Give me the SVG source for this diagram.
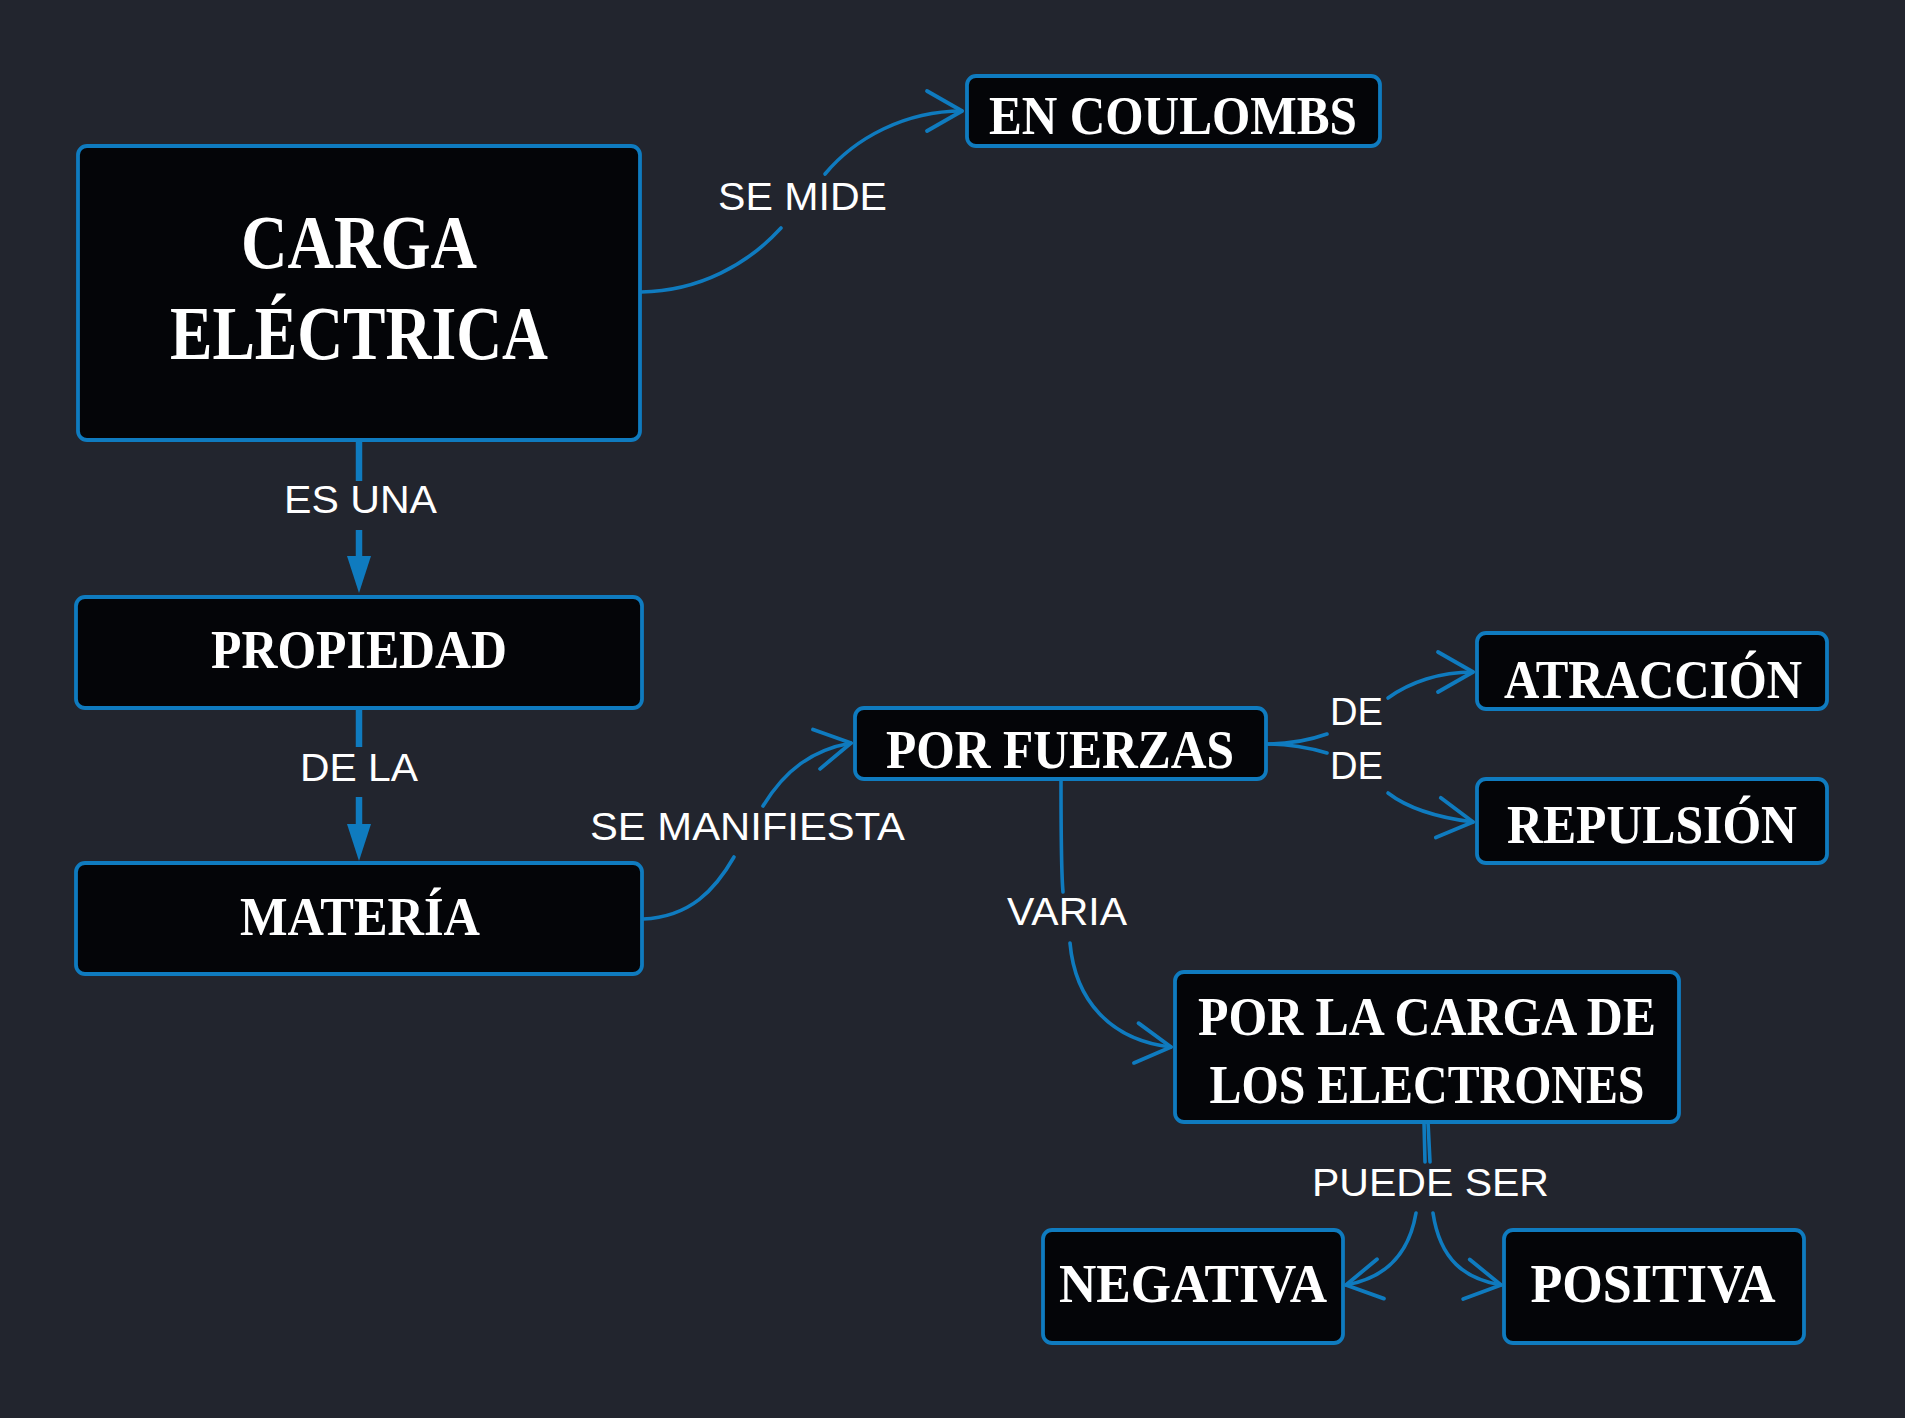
<svg xmlns="http://www.w3.org/2000/svg" width="1905" height="1418" viewBox="0 0 1905 1418">
<style>
.bg{fill:#22252e}
.box{fill:#040508;stroke:#0f7bbf;stroke-width:3.8}
.nt{font-family:"Liberation Serif","Times New Roman",serif;font-weight:bold;fill:#ffffff;text-anchor:middle}
.lb{font-family:"Liberation Sans",Arial,sans-serif;font-size:39px;fill:#ffffff;text-anchor:middle}
.c{fill:none;stroke:#0f7bbf;stroke-width:3.6;stroke-linecap:round}
.ct{fill:none;stroke:#0f7bbf;stroke-width:6.5}
</style>
<defs>
<marker id="chev" markerUnits="userSpaceOnUse" markerWidth="50" markerHeight="50" refX="0" refY="0" orient="auto" overflow="visible">
<path d="M-35,-20 L0,0 L-35,20" fill="none" stroke="#0f7bbf" stroke-width="3.8" stroke-linecap="round" stroke-linejoin="round"/>
</marker>
<marker id="tri" markerUnits="userSpaceOnUse" markerWidth="50" markerHeight="50" refX="0" refY="0" orient="auto" overflow="visible">
<path d="M-4,-12 L33,0 L-4,12 Z" fill="#0f7bbf"/>
</marker>
</defs>
<rect class="bg" x="0" y="0" width="1905" height="1418"/>

<g id="connectors">
<path class="c" d="M641,292 C700,291 748,264 781,228"/>
<path class="c" d="M825,174 C855,138 905,111 962,111" marker-end="url(#chev)"/>
<path class="ct" d="M359,440 L359,481"/>
<path class="ct" d="M359,530 L359,560" marker-end="url(#tri)"/>
<path class="ct" d="M359,710 L359,747"/>
<path class="ct" d="M359,797 L359,828" marker-end="url(#tri)"/>
<path class="c" d="M643,919 C690,917 715,890 734,857"/>
<path class="c" d="M763,806 C785,770 812,750 851,743" marker-end="url(#chev)"/>
<path class="c" d="M1267,744 C1290,744 1310,740 1327,734"/>
<path class="c" d="M1388,698 C1410,682 1440,672 1473,672" marker-end="url(#chev)"/>
<path class="c" d="M1267,744 C1290,744 1310,748 1327,753"/>
<path class="c" d="M1388,793 C1410,810 1441,818 1473,822" marker-end="url(#chev)"/>
<path class="c" d="M1061,780 C1061,840 1061,870 1063,892"/>
<path class="c" d="M1070,943 C1075,1000 1110,1040 1171,1047" marker-end="url(#chev)"/>
<path class="c" d="M1424,1122 L1425,1162"/>
<path class="c" d="M1416,1213 C1408,1260 1380,1279 1346,1285" marker-end="url(#chev)"/>
<path class="c" d="M1428,1122 L1430,1162"/>
<path class="c" d="M1433,1213 C1440,1260 1465,1279 1501,1285" marker-end="url(#chev)"/>
</g>

<g id="labels">
<text class="lb" x="802.5" y="210" textLength="169" lengthAdjust="spacingAndGlyphs">SE MIDE</text>
<text class="lb" x="360.5" y="513" textLength="153" lengthAdjust="spacingAndGlyphs">ES UNA</text>
<text class="lb" x="359" y="781" textLength="118" lengthAdjust="spacingAndGlyphs">DE LA</text>
<text class="lb" x="747.5" y="840" textLength="315" lengthAdjust="spacingAndGlyphs">SE MANIFIESTA</text>
<text class="lb" x="1356.5" y="725" textLength="53" lengthAdjust="spacingAndGlyphs">DE</text>
<text class="lb" x="1356.5" y="779" textLength="53" lengthAdjust="spacingAndGlyphs">DE</text>
<text class="lb" x="1067" y="925" textLength="120" lengthAdjust="spacingAndGlyphs">VARIA</text>
<text class="lb" x="1430.5" y="1196" textLength="237" lengthAdjust="spacingAndGlyphs">PUEDE SER</text>
</g>

<g id="node-carga">
<rect class="box" x="78" y="146" width="562" height="294" rx="9"/>
<text class="nt" x="359" y="268" font-size="76" textLength="236" lengthAdjust="spacingAndGlyphs">CARGA</text>
<text class="nt" x="359" y="359" font-size="76" textLength="378" lengthAdjust="spacingAndGlyphs">ELÉCTRICA</text>
</g>
<g id="node-coulombs">
<rect class="box" x="967" y="76" width="413" height="70" rx="9"/>
<text class="nt" x="1173" y="134" font-size="54" textLength="368" lengthAdjust="spacingAndGlyphs">EN COULOMBS</text>
</g>
<g id="node-propiedad">
<rect class="box" x="76" y="597" width="566" height="111" rx="9"/>
<text class="nt" x="359" y="668" font-size="54" textLength="296" lengthAdjust="spacingAndGlyphs">PROPIEDAD</text>
</g>
<g id="node-materia">
<rect class="box" x="76" y="863" width="566" height="111" rx="9"/>
<text class="nt" x="360" y="935" font-size="54" textLength="240" lengthAdjust="spacingAndGlyphs">MATERÍA</text>
</g>
<g id="node-fuerzas">
<rect class="box" x="855" y="708" width="411" height="71" rx="9"/>
<text class="nt" x="1060" y="768" font-size="54" textLength="348" lengthAdjust="spacingAndGlyphs">POR FUERZAS</text>
</g>
<g id="node-atraccion">
<rect class="box" x="1477" y="633" width="350" height="76" rx="9"/>
<text class="nt" x="1653" y="698" font-size="54" textLength="298" lengthAdjust="spacingAndGlyphs">ATRACCIÓN</text>
</g>
<g id="node-repulsion">
<rect class="box" x="1477" y="779" width="350" height="84" rx="9"/>
<text class="nt" x="1652" y="843" font-size="54" textLength="290" lengthAdjust="spacingAndGlyphs">REPULSIÓN</text>
</g>
<g id="node-electrones">
<rect class="box" x="1175" y="972" width="504" height="150" rx="9"/>
<text class="nt" x="1427" y="1035" font-size="54" textLength="458" lengthAdjust="spacingAndGlyphs">POR LA CARGA DE</text>
<text class="nt" x="1427" y="1103" font-size="54" textLength="435" lengthAdjust="spacingAndGlyphs">LOS ELECTRONES</text>
</g>
<g id="node-negativa">
<rect class="box" x="1043" y="1230" width="300" height="113" rx="9"/>
<text class="nt" x="1193" y="1302" font-size="54" textLength="268" lengthAdjust="spacingAndGlyphs">NEGATIVA</text>
</g>
<g id="node-positiva">
<rect class="box" x="1504" y="1230" width="300" height="113" rx="9"/>
<text class="nt" x="1653" y="1302" font-size="54" textLength="245" lengthAdjust="spacingAndGlyphs">POSITIVA</text>
</g>
</svg>
